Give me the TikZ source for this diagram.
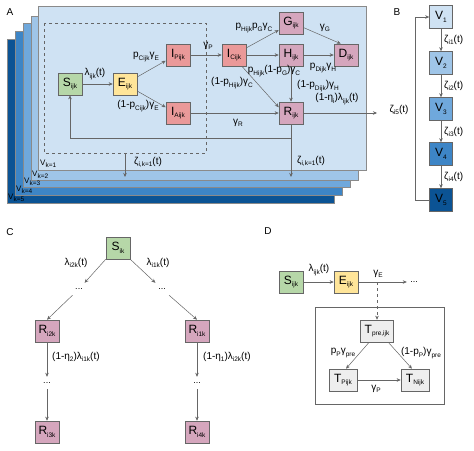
\documentclass[tikz,border=0pt]{standalone}
\usepackage{fontspec}
\setmainfont{Liberation Sans}
\usetikzlibrary{arrows.meta,calc}
\definecolor{Lone}{HTML}{CFE2F3}
\definecolor{Ltwo}{HTML}{9FC5E8}
\definecolor{Lthree}{HTML}{6FA8DC}
\definecolor{Lfour}{HTML}{3D85C6}
\definecolor{Lfive}{HTML}{0B5394}
\definecolor{cgreen}{HTML}{B6D7A8}
\definecolor{cyellow}{HTML}{FFE599}
\definecolor{cred}{HTML}{EA9999}
\definecolor{cpink}{HTML}{D5A6BD}
\definecolor{cgraynode}{HTML}{EEEEEE}
\definecolor{boxline}{HTML}{666666}
\definecolor{arrgray}{HTML}{666666}
\definecolor{layline}{HTML}{8A8A8A}
\newcommand{\sbx}[1]{\raisebox{-0.45ex}{\fontsize{6.5}{6.5}\selectfont #1}}
\tikzset{
  box/.style={draw=boxline, line width=0.6pt, minimum width=24pt, minimum height=22pt, inner sep=0pt, font=\fontsize{12}{13}\selectfont},
  sn/.style={box, fill=cgreen},
  en/.style={box, fill=cyellow},
  inode/.style={box, fill=cred},
  rn/.style={box, fill=cpink},
  tn/.style={box, fill=cgraynode, minimum width=28pt},
  vn/.style={box, minimum width=23pt, minimum height=23pt},
  lab/.style={font=\fontsize{10}{11}\selectfont, inner sep=0pt},
  vlab/.style={font=\fontsize{8}{9}\selectfont, inner sep=0pt, anchor=west},
  plab/.style={font=\fontsize{10}{11}\selectfont, inner sep=0pt},
  dots/.style={font=\fontsize{9}{10}\selectfont, inner sep=2pt, minimum width=14pt, minimum height=12pt},
  arr/.style={draw=arrgray, line width=0.5pt, -{Stealth[length=4pt,width=3.5pt]}},
  layer/.style={draw=layline, line width=0.6pt},
}
\begin{document}
\begin{tikzpicture}[x=1pt,y=-1pt]
\useasboundingbox (0,0) rectangle (474,450);
\fill[white] (0,0) rectangle (474,450);

% ---------- Panel A: stacked layers ----------
\filldraw[layer, fill=Lfive]  (7,39)  rectangle (334,203);
\filldraw[layer, fill=Lfour]  (15,31) rectangle (342,195);
\filldraw[layer, fill=Lthree] (23,23) rectangle (350,187);
\filldraw[layer, fill=Ltwo]   (31,16) rectangle (358,180);
\filldraw[layer, fill=Lone]   (38,6)  rectangle (366,170);
\draw[draw=boxline, line width=0.5pt, dashed] (44,23) rectangle (206,153);

\node[vlab] (vk1) at (40,164) {V\sbx{k=1}};
\node[vlab] (vk2) at (32,175) {V\sbx{k=2}};
\node[vlab] (vk3) at (24,182) {V\sbx{k=3}};
\node[vlab] (vk4) at (16,190) {V\sbx{k=4}};
\node[vlab] (vk5) at (8,198)  {V\sbx{k=5}};

\node[plab] (pA) at (10,12) {A};

\node[sn] (S) at (70,84) {S\sbx{ijk}};
\node[en] (E) at (125,84) {E\sbx{ijk}};
\node[inode] (IP) at (178,55) {I\sbx{Pijk}};
\node[inode] (IA) at (178,113) {I\sbx{Aijk}};
\node[inode] (IC) at (234,55) {I\sbx{Cijk}};
\node[rn] (G) at (291,23) {G\sbx{ijk}};
\node[rn] (H) at (291,55) {H\sbx{ijk}};
\node[rn] (D) at (346,55) {D\sbx{ijk}};
\node[rn] (R) at (291,113) {R\sbx{ijk}};

\draw[arr] (S.east) -- (E.west);
\draw[arr] (E.30) -- (IP.205);
\draw[arr] (E.-30) -- (IA.155);
\draw[arr] (IP.east) -- (IC.west);
\draw[arr] (IC.30) -- (G.210);
\draw[arr] (IC.east) -- (H.west);
\draw[arr] (IC.-55) -- (R.155);
\draw[arr] (G.-20) -- (D.115);
\draw[arr] (H.east) -- (D.west);
\draw[arr] (H.south) -- (R.north);
\draw[arr] (IA.east) -- (R.west);
\coordinate (Rcorner) at (291,138);
\draw[arr] (R.south) -- (Rcorner) -| (S.south);
\coordinate (Rout) at (377,113);
\draw[arr] (R.east) -- (Rout);
\coordinate (dzs) at (125,153);
\coordinate (dze) at (125,177);
\draw[arr] (dzs) -- (dze);
\coordinate (rze) at (291,177);
\draw[arr] (Rcorner) -- (rze);

\node[lab] (l1) at (95,74) {λ\sbx{ijk}(t)};
\node[lab] (l2) at (146,57) {p\sbx{Cijk}γ\sbx{E}};
\node[lab] (l3) at (138,106) {(1-p\sbx{Cijk})γ\sbx{E}};
\node[lab] (l4) at (208,46) {γ\sbx{P}};
\node[lab] (l5) at (254,28) {p\sbx{Hijk}p\sbx{G}γ\sbx{C}};
\node[lab] (l6) at (274,71) {p\sbx{Hijk}(1-p\sbx{G})γ\sbx{C}};
\node[lab] (l7) at (232,83) {(1-p\sbx{Hijk})γ\sbx{C}};
\node[lab] (l8) at (325,28) {γ\sbx{G}};
\node[lab] (l9) at (323,68) {p\sbx{Dijk}γ\sbx{H}};
\node[lab] (l10) at (318,86) {(1-p\sbx{Dijk})γ\sbx{H}};
\node[lab] (l11) at (337,99) {(1-η\sbx{i})λ\sbx{ijk}(t)};
\node[lab] (l12) at (238,123) {γ\sbx{R}};
\node[lab] (l13) at (148,162) {ζ\sbx{i,k=1}(t)};
\node[lab] (l14) at (311,161) {ζ\sbx{i,k=1}(t)};

% ---------- Panel B ----------
\node[plab] (pB) at (397,12) {B};
\node[vn, fill=Lone]   (V1) at (441,17)  {V\sbx{1}};
\node[vn, fill=Ltwo]   (V2) at (441,63)  {V\sbx{2}};
\node[vn, fill=Lthree] (V3) at (441,109) {V\sbx{3}};
\node[vn, fill=Lfour]  (V4) at (441,154) {V\sbx{4}};
\node[vn, fill=Lfive]  (V5) at (441,200) {V\sbx{5}};
\draw[arr] (V1.south) -- (V2.north);
\draw[arr] (V2.south) -- (V3.north);
\draw[arr] (V3.south) -- (V4.north);
\draw[arr] (V4.south) -- (V5.north);
\coordinate (Bloop) at (415,200);
\draw[arr] (V5.west) -- (Bloop) |- (V1.west);
\node[lab, anchor=west] (z1) at (444,40) {ζ\sbx{i1}(t)};
\node[lab, anchor=west] (z2) at (444,86) {ζ\sbx{i2}(t)};
\node[lab, anchor=west] (z3) at (444,132) {ζ\sbx{i3}(t)};
\node[lab, anchor=west] (z4) at (444,177) {ζ\sbx{i4}(t)};
\node[lab] (z5) at (399,110) {ζ\sbx{i5}(t)};

% ---------- Panel C ----------
\node[plab] (pC) at (10,232) {C};
\node[sn] (CS) at (118,248) {S\sbx{ik}};
\node[dots] (cd1) at (79,289) {...};
\node[dots] (cd2) at (162,289) {...};
\node[rn] (CR2) at (47,331) {R\sbx{i2k}};
\node[rn] (CR1) at (197,331) {R\sbx{i1k}};
\node[dots] (cd3) at (47,383) {...};
\node[dots] (cd4) at (197,383) {...};
\node[rn] (CR3) at (47,432) {R\sbx{i3k}};
\node[rn] (CR4) at (197,432) {R\sbx{i4k}};
\draw[arr] (CS.south west) -- (cd1);
\draw[arr] (cd1) -- (CR2.north);
\draw[arr] (CS.south east) -- (cd2);
\draw[arr] (cd2) -- (CR1.north);
\draw[arr] (CR2.south) -- (cd3);
\draw[arr] (cd3) -- (CR3.north);
\draw[arr] (CR1.south) -- (cd4);
\draw[arr] (cd4) -- (CR4.north);
\node[lab] (cl1) at (76,263) {λ\sbx{i2k}(t)};
\node[lab] (cl2) at (158,263) {λ\sbx{i1k}(t)};
\node[lab, anchor=west] (cl3) at (52,357) {(1-η\sbx{2})λ\sbx{i1k}(t)};
\node[lab, anchor=west] (cl4) at (203,357) {(1-η\sbx{1})λ\sbx{i2k}(t)};

% ---------- Panel D ----------
\node[plab] (pD) at (268,231) {D};
\node[sn] (DS) at (291,282) {S\sbx{ijk}};
\node[en] (DE) at (346,282) {E\sbx{ijk}};
\node[dots] (dd) at (414,282) {...};
\draw[arr] (DS.east) -- (DE.west);
\draw[arr] (DE.east) -- (dd);
\draw[draw=boxline, line width=0.6pt] (315,307) rectangle (444,404);
\node[tn, minimum width=33pt] (Tpre) at (377,331) {T\sbx{pre,ijk}};
\node[tn] (TP) at (343,380) {T\sbx{Pijk}};
\node[tn] (TN) at (415,380) {T\sbx{Nijk}};
\draw[arr, dashed] (Tpre.north |- DE.east) -- (Tpre.north);
\draw[arr] (Tpre.235) -- (TP.75);
\draw[arr] (Tpre.-45) -- (TN.105);
\draw[arr] (TP.east) -- (TN.west);
\node[lab] (dl1) at (319,270) {λ\sbx{ijk}(t)};
\node[lab] (dl2) at (378,274) {γ\sbx{E}};
\node[lab] (dl3) at (343,353) {p\sbx{P}γ\sbx{pre}};
\node[lab] (dl4) at (421,353) {(1-p\sbx{P})γ\sbx{pre}};
\node[lab] (dl5) at (376,389) {γ\sbx{P}};
\end{tikzpicture}
\end{document}
